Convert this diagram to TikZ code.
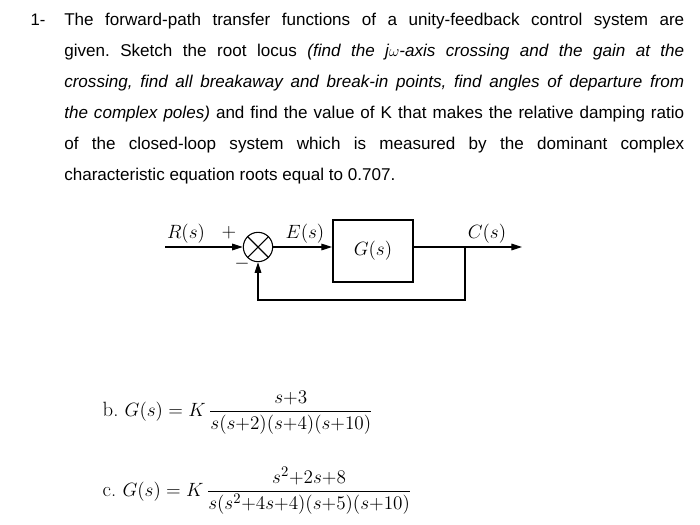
\documentclass[tikz,border=0pt]{standalone}
\usepackage{amsmath}
\usepackage{fontspec}
\newfontfamily\arialfont{Liberation Sans}
\usepackage{tikz}
\usetikzlibrary{positioning,arrows.meta}
\frenchspacing
\tikzset{
    sig/.style={-{Triangle[length=8pt,width=5pt]}, thick},
    line/.style={thick},
    lbl/.style={font=\fontsize{14}{16}\selectfont},
}
\begin{document}
\begin{tikzpicture}[x=0.75pt,y=-0.75pt]
    \useasboundingbox (0,0) rectangle (700,525);

    % problem statement
    \node[anchor=base west, font=\arialfont\fontsize{12.5}{12}\selectfont] (num) at (26,25) {1-};
    \node[anchor=north west, text width=465pt, align=justify, inner sep=0pt,
          font=\arialfont\fontsize{12.8}{23.3}\selectfont] (text) at (64,13)
    {The forward-path transfer functions of a unity-feedback control system are\linebreak
     given. Sketch the root locus \textit{(find the j$\omega$-axis crossing and the gain at the\linebreak
     crossing, find all breakaway and break-in points, find angles of departure from\linebreak
     the complex poles)} and find the value of K that makes the relative damping ratio\linebreak
     of the closed-loop system which is measured by the dominant complex\linebreak
     characteristic equation roots equal to 0.707.};

    % block diagram
    \coordinate (in) at (165,247);
    \node[draw, thick, circle, minimum size=22pt, inner sep=0pt] (sum) at (258,247) {};
    \draw[thick] (sum.north west) -- (sum.south east) (sum.north east) -- (sum.south west);
    \node[draw, line width=1.6pt, minimum width=60pt, minimum height=47pt] (plant) at (373,251) {\fontsize{14}{16}\selectfont$G(s)$};
    \coordinate (branch) at (465,247);
    \coordinate (out) at (522,247);
    \coordinate (fb) at (465,300);

    \draw[sig] (in) -- (sum);
    \draw[sig] (sum) -- (plant.west |- sum);
    \draw[line] (plant.east |- sum) -- (branch);
    \draw[sig] (branch) -- (out);
    \draw[sig] (branch) -- (fb) -| (sum.south);

    \node[lbl] (rlab) at (186,234) {$R(s)$};
    \node[lbl] (plus) at (229,233) {$+$};
    \node[lbl] (elab) at (305,234) {$E(s)$};
    \node[lbl] (clab) at (487,234) {$C(s)$};
    \node[lbl] (minus) at (242,264) {$-$};

    % transfer functions
    \node[anchor=base west, font=\fontsize{15.5}{18}\selectfont] (tfb) at (98,416)
        {b.\ $G(s)=K\,\dfrac{s{+}3}{s(s{+}2)(s{+}4)(s{+}10)}$};
    \node[anchor=base west, font=\fontsize{15.5}{18}\selectfont] (tfc) at (98,496)
        {c.\ $G(s)=K\,\dfrac{s^2{+}2s{+}8}{s(s^2{+}4s{+}4)(s{+}5)(s{+}10)}$};
\end{tikzpicture}
\end{document}
